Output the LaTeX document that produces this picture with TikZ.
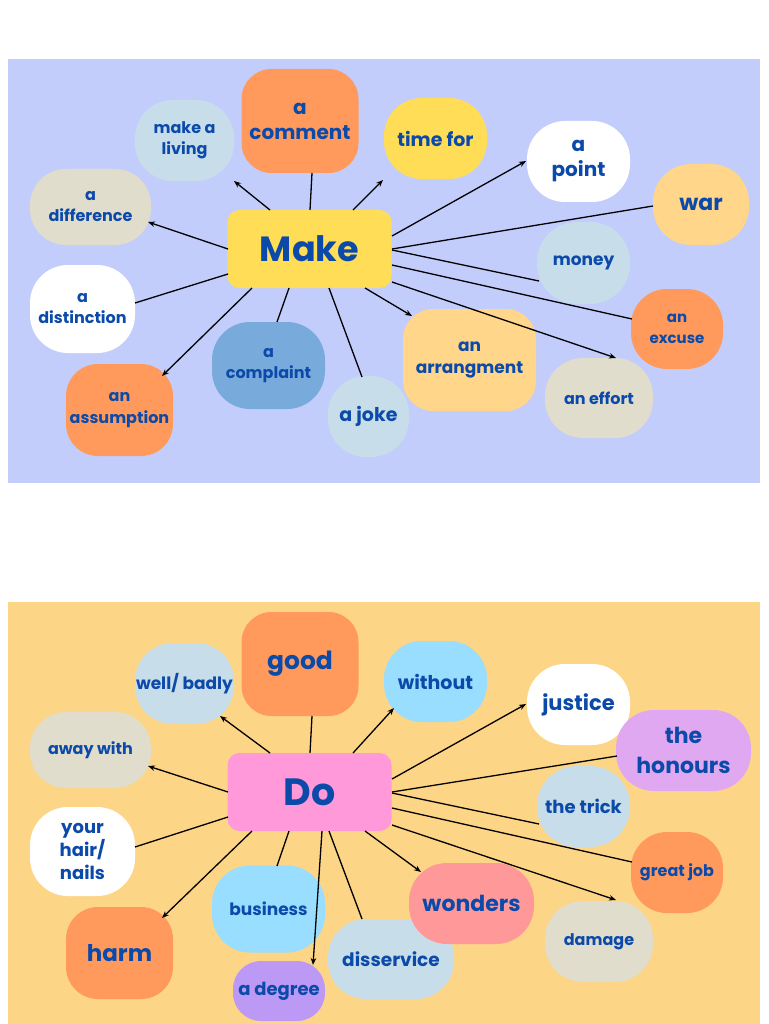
\documentclass[tikz,border=0pt]{standalone}
\usepackage{fontspec}
\setmainfont{Poppins}
\usetikzlibrary{arrows.meta,calc}
\definecolor{bgTop}{RGB}{195,205,252}
\definecolor{bgBot}{RGB}{253,213,135}
\definecolor{cYellow}{RGB}{255,221,87}
\definecolor{cOrange}{RGB}{255,154,92}
\definecolor{cGrey}{RGB}{200,221,234}
\definecolor{cBeige}{RGB}{224,221,204}
\definecolor{cLOrange}{RGB}{255,214,138}
\definecolor{cSteel}{RGB}{120,170,220}
\definecolor{cPink}{RGB}{255,153,217}
\definecolor{cSky}{RGB}{153,221,255}
\definecolor{cViolet}{RGB}{224,168,240}
\definecolor{cSalmon}{RGB}{255,153,153}
\definecolor{cPurple}{RGB}{187,153,245}
\definecolor{txt}{RGB}{12,74,170}
\newcommand\fsz[2]{\bfseries\fontsize{#1}{#2}\selectfont}
\tikzset{
  bub/.style={rectangle, inner sep=0pt, align=center, text=txt, font=\fsz{16}{21}},
  link/.style={line width=1.3pt, draw=black},
  arr/.style={link, -{Stealth[length=7pt,width=5.5pt]}},
}
\begin{document}
\begin{tikzpicture}[x=1pt,y=-1pt]
\useasboundingbox (0,0) rectangle (768,1024);
\fill[white] (0,0) rectangle (768,1024);
\fill[bgTop] (8,59) rectangle (760,483);
\fill[bgBot] (8,602) rectangle (760,1024);

% ---------- Make panel ----------
\node[bub, fill=cYellow, minimum width=164pt, minimum height=78pt, rounded corners=12pt, font=\fsz{35}{40}] (make) at (309.5,249) {Make};
\node[bub, fill=cOrange, minimum width=117pt, minimum height=104pt, rounded corners=30pt, font=\fsz{20}{25}] (comment) at (300,121) {a\\comment};
\node[bub, fill=cGrey, minimum width=99pt, minimum height=81pt, rounded corners=38pt] (living) at (184.5,140.5) {make a\\living};
\node[bub, fill=cBeige, minimum width=121pt, minimum height=76pt, rounded corners=36pt] (difference) at (90.5,207) {a\\difference};
\node[bub, fill=cYellow, minimum width=103pt, minimum height=81pt, rounded corners=38pt, font=\fsz{19}{24}] (timefor) at (435.5,138.5) {time for};
\node[bub, fill=white, minimum width=103pt, minimum height=81pt, rounded corners=38pt, font=\fsz{20}{25}] (point) at (578.5,161.5) {a\\point};
\node[bub, fill=cLOrange, minimum width=96pt, minimum height=81pt, rounded corners=38pt, font=\fsz{22}{27}] (war) at (701,204.5) {war};
\node[bub, fill=cGrey, minimum width=93pt, minimum height=82pt, rounded corners=40pt, font=\fsz{17}{22}] (money) at (583.5,263) {money};
\node[bub, fill=cOrange, minimum width=92pt, minimum height=80pt, rounded corners=36pt, font=\fsz{15}{21}] (excuse) at (677,329) {an\\excuse};
\node[bub, fill=cBeige, minimum width=108pt, minimum height=80pt, rounded corners=38pt] (effort) at (599,398) {an effort};
\node[bub, fill=cLOrange, minimum width=133pt, minimum height=102pt, rounded corners=30pt, font=\fsz{17}{22}] (arrangment) at (469.5,360) {an\\arrangment};
\node[bub, fill=cGrey, minimum width=81pt, minimum height=81pt, rounded corners=38pt, font=\fsz{19}{24}] (joke) at (368.5,416.5) {a joke};
\node[bub, fill=cSteel, minimum width=113pt, minimum height=87pt, rounded corners=38pt] (complaint) at (268.5,365.5) {a\\complaint};
\node[bub, fill=cOrange, minimum width=107pt, minimum height=92pt, rounded corners=32pt, font=\fsz{16}{22}] (assumption) at (119.5,410) {an\\assumption};
\node[bub, fill=white, minimum width=105pt, minimum height=88pt, rounded corners=38pt] (distinction) at (82.5,309) {a\\distinction};

\draw[arr]  ($(make)+(-39.5,-39)$) -- ($(living)+(49.5,40.5)$);
\draw[link] ($(make)+(0.5,-39)$)   -- ($(comment)+(12,52)$);
\draw[arr]  ($(make)+(43.5,-39)$)  -- ($(timefor)+(-52.5,41.5)$);
\draw[arr]  ($(make)+(-81.5,0)$)   -- ($(difference)+(57.5,15)$);
\draw[arr]  ($(make)+(82.5,-13)$)  -- ($(point)+(-52.5,-0.5)$);
\draw[link] ($(make)+(82.5,0)$)    -- ($(war)+(-48,1.5)$);
\draw[link] ($(make)+(82.5,1)$)    -- ($(money)+(-44.5,18)$);
\draw[link] ($(make)+(82.5,16)$)   -- ($(excuse)+(-45,-10)$);
\draw[arr]  ($(make)+(82.5,33)$)   -- ($(effort)+(17,-40)$);
\draw[arr]  ($(make)+(55.5,39)$)   -- ($(arrangment)+(-57.5,-44)$);
\draw[link] ($(make)+(19.5,39)$)   -- ($(joke)+(-6.5,-39.5)$);
\draw[link] ($(make)+(-20.5,39)$)  -- ($(complaint)+(8.5,-43.5)$);
\draw[arr]  ($(make)+(-57.5,39)$)  -- ($(assumption)+(42.5,-34)$);
\draw[link] ($(make)+(-81.5,25)$)  -- ($(distinction)+(52.5,-6)$);

% ---------- Do panel ----------
\node[bub, fill=cPink, minimum width=164pt, minimum height=78pt, rounded corners=12pt, font=\fsz{38}{42}] (do) at (309.5,792) {Do};
\node[bub, fill=cOrange, minimum width=117pt, minimum height=104pt, rounded corners=30pt, font=\fsz{25}{30}] (good) at (300,664) {good};
\node[bub, fill=cGrey, minimum width=99pt, minimum height=81pt, rounded corners=38pt, font=\fsz{17}{22}] (wellbadly) at (184.5,683.5) {well/ badly};
\node[bub, fill=cBeige, minimum width=121pt, minimum height=76pt, rounded corners=36pt] (awaywith) at (90.5,750) {away with};
\node[bub, fill=cSky, minimum width=103pt, minimum height=81pt, rounded corners=38pt, font=\fsz{19}{24}] (without) at (435.5,681.5) {without};
\node[bub, fill=white, minimum width=103pt, minimum height=81pt, rounded corners=38pt, font=\fsz{21}{26}] (justice) at (578.5,704.5) {justice};
\node[bub, fill=cViolet, minimum width=135pt, minimum height=81pt, rounded corners=38pt, font=\fsz{22}{30}] (honours) at (683.5,750.5) {the\\honours};
\node[bub, fill=cGrey, minimum width=93pt, minimum height=81pt, rounded corners=40pt, font=\fsz{18}{23}] (trick) at (583.5,806.5) {the trick};
\node[bub, fill=cOrange, minimum width=92pt, minimum height=81pt, rounded corners=36pt] (greatjob) at (677,872.5) {great job};
\node[bub, fill=cBeige, minimum width=108pt, minimum height=81pt, rounded corners=38pt] (damage) at (599,941.5) {damage};
\node[bub, fill=cGrey, minimum width=126pt, minimum height=80pt, rounded corners=38pt, font=\fsz{18.5}{23}] (disservice) at (391,959) {disservice};
\node[bub, fill=cSalmon, minimum width=125pt, minimum height=81pt, rounded corners=38pt, font=\fsz{22}{27}] (wonders) at (471.5,903.5) {wonders};
\node[bub, fill=cPurple, minimum width=92pt, minimum height=60pt, rounded corners=28pt, font=\fsz{18}{23}] (degree) at (279,991) {a degree};
\node[bub, fill=cSky, minimum width=113pt, minimum height=87pt, rounded corners=38pt, font=\fsz{17}{22}] (business) at (268.5,909) {business};
\node[bub, fill=cOrange, minimum width=107pt, minimum height=92pt, rounded corners=32pt, font=\fsz{23}{28}] (harm) at (119.5,953) {harm};
\node[bub, fill=white, minimum width=105pt, minimum height=89pt, rounded corners=38pt, font=\fsz{18}{23}] (hair) at (82.5,851.5) {your\\hair/\\nails};

\draw[arr]  ($(do)+(-39.5,-39)$) -- ($(wellbadly)+(35.5,32.5)$);
\draw[link] ($(do)+(0.5,-39)$)   -- ($(good)+(12,52)$);
\draw[arr]  ($(do)+(43.5,-39)$)  -- ($(without)+(-41.5,26.5)$);
\draw[arr]  ($(do)+(-81.5,0)$)   -- ($(awaywith)+(57.5,16)$);
\draw[arr]  ($(do)+(82.5,-13)$)  -- ($(justice)+(-52.5,-0.5)$);
\draw[link] ($(do)+(82.5,0)$)    -- ($(honours)+(-66.5,5.5)$);
\draw[link] ($(do)+(82.5,1)$)    -- ($(trick)+(-44.5,17.5)$);
\draw[link] ($(do)+(82.5,16)$)   -- ($(greatjob)+(-45,-10.5)$);
\draw[arr]  ($(do)+(82.5,33)$)   -- ($(damage)+(17,-41.5)$);
\draw[arr]  ($(do)+(55.5,39)$)   -- ($(wonders)+(-50.5,-31.5)$);
\draw[link] ($(do)+(19.5,39)$)   -- ($(disservice)+(-29,-40)$);
\draw[arr]  ($(do)+(12.5,39)$)   -- ($(degree)+(34,-26)$);
\draw[link] ($(do)+(-20.5,39)$)  -- ($(business)+(8.5,-43)$);
\draw[arr]  ($(do)+(-57.5,39)$)  -- ($(harm)+(42.5,-35)$);
\draw[link] ($(do)+(-81.5,25)$)  -- ($(hair)+(52.5,-4.5)$);
\end{tikzpicture}
\end{document}
